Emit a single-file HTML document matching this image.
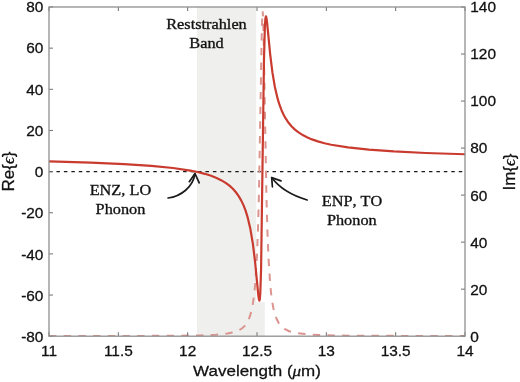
<!DOCTYPE html>
<html><head><meta charset="utf-8"><style>
html,body{margin:0;padding:0;background:#fff;}
body{width:520px;height:382px;overflow:hidden;}
svg{display:block;}
</style></head><body>
<svg width="520" height="382" viewBox="0 0 520 382">
<rect width="520" height="382" fill="#fff"/>
<path d="M197.0,7.0 H256.2 V302 H264.8 V336.2 H197.0 Z" fill="#efefed"/>
<defs><clipPath id="ax"><rect x="49.0" y="7.0" width="416.0" height="329.2"/></clipPath></defs>
<g clip-path="url(#ax)">
<line x1="49.0" y1="171.60" x2="465.0" y2="171.60" stroke="#1a1a1a" stroke-width="1.4" stroke-dasharray="3.5 3.95"/>
<path d="M49.00,336.14 L171.29,335.82 L198.47,335.42 L215.68,334.71 L227.45,333.51 L232.25,332.59 L236.20,331.42 L239.43,330.01 L242.17,328.26 L244.49,326.14 L246.50,323.55 L248.48,319.93 L250.18,315.46 L251.64,310.03 L252.92,303.37 L254.03,295.46 L255.00,286.10 L256.67,261.53 L257.85,233.30 L258.85,197.78 L261.70,36.75 L262.22,16.97 L262.67,11.38" fill="none" stroke="#dc948f" stroke-width="2" stroke-dasharray="7.4 7.3"/>
<path d="M262.67,11.38 L263.12,17.84 L263.60,36.64 L266.45,197.03 L267.45,232.48 L268.60,260.03 L270.23,284.56 L271.20,294.15 L272.31,302.27 L273.56,308.94 L274.98,314.44 L276.65,319.02 L278.59,322.76 L280.56,325.45 L282.85,327.67 L285.52,329.48 L288.68,330.97 L292.39,332.16 L296.83,333.12 L308.63,334.47 L325.36,335.25 L351.28,335.71 L465.00,336.09" fill="none" stroke="#dc948f" stroke-width="2" stroke-dasharray="7.4 7.3" stroke-dashoffset="2.40"/>
<path d="M49.00,161.45 L90.67,162.68 L124.19,164.14 L151.36,165.90 L173.10,168.02 L190.31,170.56 L197.56,172.01 L204.81,173.82 L211.15,175.82 L216.58,177.95 L221.11,180.14 L225.64,182.85 L229.44,185.68 L232.84,188.79 L235.89,192.24 L238.67,196.09 L241.16,200.35 L243.45,205.15 L245.50,210.42 L247.37,216.34 L250.35,228.84 L252.89,243.91 L255.11,262.13 L258.30,295.03 L258.89,299.26 L259.37,300.63 L259.86,298.85 L260.31,292.99 L261.07,269.65 L263.99,59.38 L264.85,27.09 L265.34,19.26 L265.89,16.45 L266.38,17.56 L267.00,21.85 L270.19,54.31 L272.41,72.38 L274.88,87.01 L277.75,99.19 L279.56,104.98 L281.54,110.20 L283.72,114.92 L286.15,119.21 L288.78,123.01 L291.73,126.49 L294.99,129.62 L298.60,132.44 L302.78,135.10 L306.96,137.27 L311.98,139.40 L317.83,141.40 L324.52,143.24 L331.21,144.73 L347.93,147.45 L368.84,149.68 L393.92,151.46 L425.70,152.98 L465.00,154.26" fill="none" stroke="#c93b2f" stroke-width="2.2" stroke-linejoin="round"/>
</g>
<path d="M49.00,336.2 V332.2 M49.00,7.0 V11.0 M118.33,336.2 V332.2 M118.33,7.0 V11.0 M187.67,336.2 V332.2 M187.67,7.0 V11.0 M257.00,336.2 V332.2 M257.00,7.0 V11.0 M326.33,336.2 V332.2 M326.33,7.0 V11.0 M395.67,336.2 V332.2 M395.67,7.0 V11.0 M465.00,336.2 V332.2 M465.00,7.0 V11.0 M49.0,336.20 H53.0 M49.0,295.05 H53.0 M49.0,253.90 H53.0 M49.0,212.75 H53.0 M49.0,171.60 H53.0 M49.0,130.45 H53.0 M49.0,89.30 H53.0 M49.0,48.15 H53.0 M49.0,7.00 H53.0 M465.0,336.20 H461.0 M465.0,289.17 H461.0 M465.0,242.14 H461.0 M465.0,195.11 H461.0 M465.0,148.09 H461.0 M465.0,101.06 H461.0 M465.0,54.03 H461.0 M465.0,7.00 H461.0" stroke="#707070" stroke-width="1" fill="none"/>
<rect x="49.0" y="7.0" width="416.0" height="329.2" fill="none" stroke="#8f8f8f" stroke-width="1.3"/>
<g font-family="Liberation Sans, Arial, sans-serif" font-size="15.4" fill="#111" stroke="#111" stroke-width="0.3"><text transform="translate(49.00,356.00) scale(1,0.91)" text-anchor="middle">11</text><text transform="translate(118.33,356.00) scale(1,0.91)" text-anchor="middle">11.5</text><text transform="translate(187.67,356.00) scale(1,0.91)" text-anchor="middle">12</text><text transform="translate(257.00,356.00) scale(1,0.91)" text-anchor="middle">12.5</text><text transform="translate(326.33,356.00) scale(1,0.91)" text-anchor="middle">13</text><text transform="translate(395.67,356.00) scale(1,0.91)" text-anchor="middle">13.5</text><text transform="translate(465.00,356.00) scale(1,0.91)" text-anchor="middle">14</text><text transform="translate(43.40,342.10) scale(1,0.91)" text-anchor="end">-80</text><text transform="translate(43.40,300.84) scale(1,0.91)" text-anchor="end">-60</text><text transform="translate(43.40,259.57) scale(1,0.91)" text-anchor="end">-40</text><text transform="translate(43.40,218.31) scale(1,0.91)" text-anchor="end">-20</text><text transform="translate(43.40,177.05) scale(1,0.91)" text-anchor="end">0</text><text transform="translate(43.40,135.79) scale(1,0.91)" text-anchor="end">20</text><text transform="translate(43.40,94.53) scale(1,0.91)" text-anchor="end">40</text><text transform="translate(43.40,53.26) scale(1,0.91)" text-anchor="end">60</text><text transform="translate(43.40,12.00) scale(1,0.91)" text-anchor="end">80</text><text transform="translate(470.30,342.10) scale(1,0.91)" text-anchor="start">0</text><text transform="translate(470.30,294.94) scale(1,0.91)" text-anchor="start">20</text><text transform="translate(470.30,247.79) scale(1,0.91)" text-anchor="start">40</text><text transform="translate(470.30,200.63) scale(1,0.91)" text-anchor="start">60</text><text transform="translate(470.30,153.47) scale(1,0.91)" text-anchor="start">80</text><text transform="translate(470.30,106.31) scale(1,0.91)" text-anchor="start">100</text><text transform="translate(470.30,59.16) scale(1,0.91)" text-anchor="start">120</text><text transform="translate(470.30,12.00) scale(1,0.91)" text-anchor="start">140</text></g>
<g font-family="Liberation Sans, Arial, sans-serif" font-size="17" fill="#111" stroke="#111" stroke-width="0.3">
<text transform="translate(257.00,376.20) scale(1,0.9)" text-anchor="middle">Wavelength (<tspan font-family="Liberation Serif, serif" font-style="italic">μ</tspan>m)</text>
<text transform="translate(14.2,171.5) rotate(-90)" text-anchor="middle">Re{<tspan font-family="Liberation Serif, serif" font-style="italic">ϵ</tspan>}</text>
<text transform="translate(514.6,172) rotate(-90)" text-anchor="middle">Im{<tspan font-family="Liberation Serif, serif" font-style="italic">ϵ</tspan>}</text>
</g>
<g font-family="Liberation Serif, Times New Roman, serif" font-size="16.3" fill="#111" stroke="#111" stroke-width="0.35" style="font-kerning:none"><text transform="translate(206.50,28.70) scale(1,0.9)" text-anchor="middle">Reststrahlen</text><text transform="translate(206.50,47.70) scale(1,0.9)" text-anchor="middle">Band</text><text transform="translate(120.40,194.90) scale(1,0.9)" text-anchor="middle">ENZ, LO</text><text transform="translate(120.50,213.80) scale(1,0.9)" text-anchor="middle">Phonon</text><text transform="translate(352.00,205.60) scale(1,0.9)" text-anchor="middle">ENP, TO</text><text transform="translate(351.80,224.60) scale(1,0.9)" text-anchor="middle">Phonon</text></g>
<g fill="none" stroke="#1a1a1a" stroke-width="1.7" stroke-linecap="round" stroke-linejoin="round"><path d="M168,198 C181,196.5 193,187 195,173.6"/><path d="M189.3,181.7 L195,173.6 L199.2,182.8"/><path d="M307.2,200 Q283,193 271.7,177.6"/><path d="M281,180.9 L271.7,177.6 L272.4,186.8"/></g>
</svg>
</body></html>
